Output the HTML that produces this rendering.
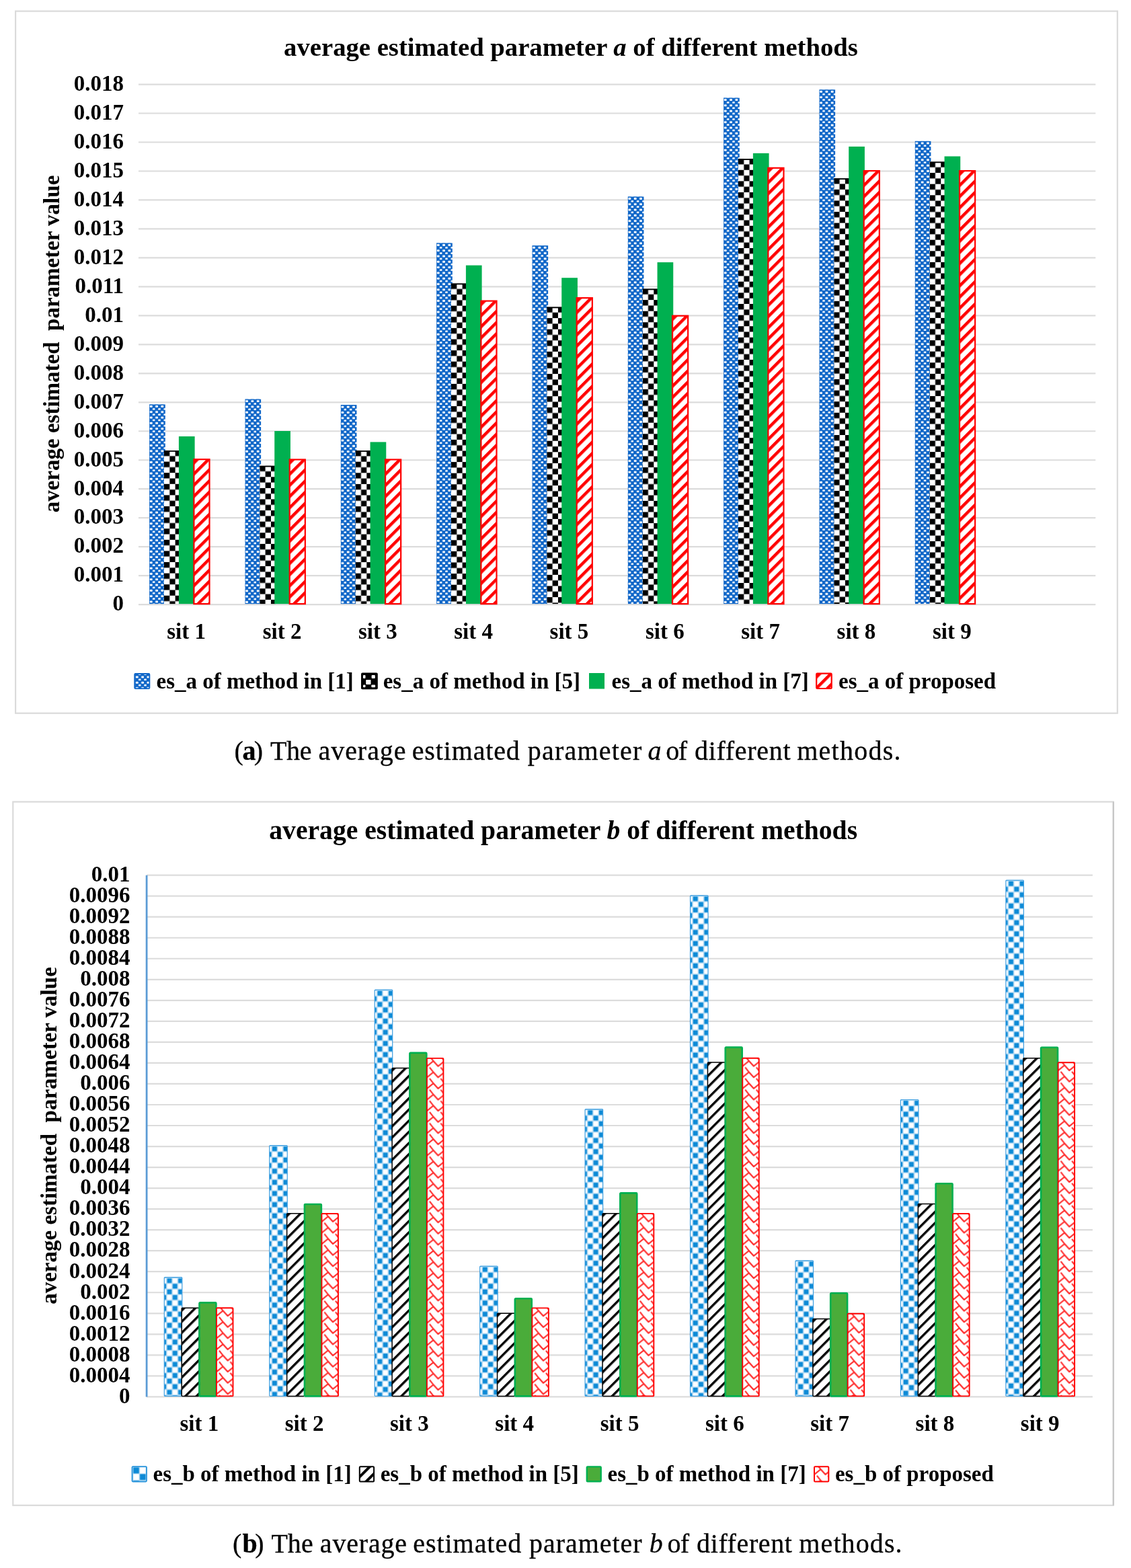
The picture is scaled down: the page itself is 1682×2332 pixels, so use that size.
<!DOCTYPE html>
<html><head><meta charset="utf-8"><title>average estimated parameters</title>
<style>
html,body{margin:0;padding:0;background:#fff;}
body{width:1682px;height:2332px;overflow:hidden;}
svg{display:block;}
text{font-family:"Liberation Serif", "Times New Roman", serif;fill:#000;}
.b{font-weight:bold;}
</style></head><body>
<svg width="1682" height="2332" viewBox="0 0 1682 2332">
<defs>
<pattern id="pa1" patternUnits="userSpaceOnUse" width="8.3" height="8.3">
  <rect width="8.3" height="8.3" fill="#0f66c8"/>
  <rect x="0.7" y="1.6" width="3.9" height="3.0" rx="1" fill="#fff"/>
  <rect x="4.8500000000000005" y="5.75" width="3.9" height="3.0" rx="1" fill="#fff"/>
</pattern>
<pattern id="pa2" patternUnits="userSpaceOnUse" width="16.6" height="16.6">
  <rect width="16.6" height="16.6" fill="#fff"/>
  <rect width="8.3" height="8.3" fill="#000"/>
  <rect x="8.3" y="8.3" width="8.3" height="8.3" fill="#000"/>
</pattern>
<pattern id="pa4" patternUnits="userSpaceOnUse" width="11.74" height="20" x="3.0" patternTransform="rotate(45)">
  <rect width="11.74" height="20" fill="#fff"/>
  <rect width="4.5" height="20" fill="#ff0000"/>
</pattern>
<pattern id="pb1" patternUnits="userSpaceOnUse" width="16.6" height="16.6" x="4.0" y="1.3">
  <rect width="16.6" height="16.6" fill="#b4daf3"/>
  <rect x="0.8" y="0.8" width="6.7" height="6.7" rx="0.6" fill="#0d8ad6"/>
  <rect x="9.100000000000001" y="9.100000000000001" width="6.7" height="6.7" rx="0.6" fill="#0d8ad6"/>
  <rect x="9.100000000000001" y="0.8" width="6.7" height="6.7" rx="0.6" fill="#fff"/>
  <rect x="0.8" y="9.100000000000001" width="6.7" height="6.7" rx="0.6" fill="#fff"/>
</pattern>
<pattern id="pb1i" patternUnits="userSpaceOnUse" width="19.6" height="19.6" x="2.0" y="1.8">
  <rect width="19.6" height="19.6" fill="#b4daf3"/>
  <rect x="0.6" y="0.6" width="8.6" height="8.6" rx="0.6" fill="#0d8ad6"/>
  <rect x="10.4" y="10.4" width="8.6" height="8.6" rx="0.6" fill="#0d8ad6"/>
  <rect x="10.4" y="0.6" width="8.6" height="8.6" rx="0.6" fill="#fff"/>
  <rect x="0.6" y="10.4" width="8.6" height="8.6" rx="0.6" fill="#fff"/>
</pattern>
<pattern id="pb2i" patternUnits="userSpaceOnUse" width="11.74" height="20" x="-1.5" patternTransform="rotate(45)">
  <rect width="11.74" height="20" fill="#fff"/>
  <rect width="4.0" height="20" fill="#000"/>
</pattern>
<pattern id="pa1i" patternUnits="userSpaceOnUse" width="8.3" height="8.3" x="1.85" y="2.7">
  <rect width="8.3" height="8.3" fill="#0f66c8"/>
  <rect x="0.7" y="1.6" width="3.9" height="3.0" rx="1" fill="#fff"/>
  <rect x="4.8500000000000005" y="5.75" width="3.9" height="3.0" rx="1" fill="#fff"/>
</pattern>
<pattern id="pb2" patternUnits="userSpaceOnUse" width="11.74" height="20" x="2" patternTransform="rotate(45)">
  <rect width="11.74" height="20" fill="#fff"/>
  <rect width="3.4" height="20" fill="#000"/>
</pattern>
<pattern id="pb4" patternUnits="userSpaceOnUse" width="16.6" height="16.6">
  <rect width="16.6" height="16.6" fill="#fff"/>
  <path d="M-15.70,-3.90 L-6.10,-11.60 L0.90,-3.90 M-6.10,-11.60 L-11.20,-18.00 M-15.70,12.70 L-6.10,5.00 L0.90,12.70 M-6.10,5.00 L-11.20,-1.40 M-15.70,29.30 L-6.10,21.60 L0.90,29.30 M-6.10,21.60 L-11.20,15.20 M0.90,-3.90 L10.50,-11.60 L17.50,-3.90 M10.50,-11.60 L5.40,-18.00 M0.90,12.70 L10.50,5.00 L17.50,12.70 M10.50,5.00 L5.40,-1.40 M0.90,29.30 L10.50,21.60 L17.50,29.30 M10.50,21.60 L5.40,15.20 M17.50,-3.90 L27.10,-11.60 L34.10,-3.90 M27.10,-11.60 L22.00,-18.00 M17.50,12.70 L27.10,5.00 L34.10,12.70 M27.10,5.00 L22.00,-1.40 M17.50,29.30 L27.10,21.60 L34.10,29.30 M27.10,21.60 L22.00,15.20" stroke="#ff3030" stroke-width="2.2" stroke-linejoin="round" stroke-linecap="round" fill="none"/>
</pattern>
</defs>
<rect width="1682" height="2332" fill="#fff"/>

<rect x="23.1" y="16.6" width="1638.7" height="1044.1" fill="#fff" stroke="#dadada" stroke-width="2.2"/>
<text class="b" x="849" y="82.8" text-anchor="middle" font-size="38.7">average estimated parameter <tspan font-style="italic">a</tspan> of different methods</text>
<line x1="206.0" y1="899.10" x2="1629.3" y2="899.10" stroke="#dcdcdc" stroke-width="2.2"/>
<text class="b" x="184" y="908.40" text-anchor="end" font-size="33">0</text>
<line x1="206.0" y1="856.12" x2="1629.3" y2="856.12" stroke="#dcdcdc" stroke-width="2.2"/>
<text class="b" x="184" y="865.42" text-anchor="end" font-size="33">0.001</text>
<line x1="206.0" y1="813.15" x2="1629.3" y2="813.15" stroke="#dcdcdc" stroke-width="2.2"/>
<text class="b" x="184" y="822.45" text-anchor="end" font-size="33">0.002</text>
<line x1="206.0" y1="770.17" x2="1629.3" y2="770.17" stroke="#dcdcdc" stroke-width="2.2"/>
<text class="b" x="184" y="779.47" text-anchor="end" font-size="33">0.003</text>
<line x1="206.0" y1="727.20" x2="1629.3" y2="727.20" stroke="#dcdcdc" stroke-width="2.2"/>
<text class="b" x="184" y="736.50" text-anchor="end" font-size="33">0.004</text>
<line x1="206.0" y1="684.23" x2="1629.3" y2="684.23" stroke="#dcdcdc" stroke-width="2.2"/>
<text class="b" x="184" y="693.52" text-anchor="end" font-size="33">0.005</text>
<line x1="206.0" y1="641.25" x2="1629.3" y2="641.25" stroke="#dcdcdc" stroke-width="2.2"/>
<text class="b" x="184" y="650.55" text-anchor="end" font-size="33">0.006</text>
<line x1="206.0" y1="598.28" x2="1629.3" y2="598.28" stroke="#dcdcdc" stroke-width="2.2"/>
<text class="b" x="184" y="607.58" text-anchor="end" font-size="33">0.007</text>
<line x1="206.0" y1="555.30" x2="1629.3" y2="555.30" stroke="#dcdcdc" stroke-width="2.2"/>
<text class="b" x="184" y="564.60" text-anchor="end" font-size="33">0.008</text>
<line x1="206.0" y1="512.33" x2="1629.3" y2="512.33" stroke="#dcdcdc" stroke-width="2.2"/>
<text class="b" x="184" y="521.62" text-anchor="end" font-size="33">0.009</text>
<line x1="206.0" y1="469.35" x2="1629.3" y2="469.35" stroke="#dcdcdc" stroke-width="2.2"/>
<text class="b" x="184" y="478.65" text-anchor="end" font-size="33">0.01</text>
<line x1="206.0" y1="426.38" x2="1629.3" y2="426.38" stroke="#dcdcdc" stroke-width="2.2"/>
<text class="b" x="184" y="435.68" text-anchor="end" font-size="33">0.011</text>
<line x1="206.0" y1="383.40" x2="1629.3" y2="383.40" stroke="#dcdcdc" stroke-width="2.2"/>
<text class="b" x="184" y="392.70" text-anchor="end" font-size="33">0.012</text>
<line x1="206.0" y1="340.42" x2="1629.3" y2="340.42" stroke="#dcdcdc" stroke-width="2.2"/>
<text class="b" x="184" y="349.72" text-anchor="end" font-size="33">0.013</text>
<line x1="206.0" y1="297.45" x2="1629.3" y2="297.45" stroke="#dcdcdc" stroke-width="2.2"/>
<text class="b" x="184" y="306.75" text-anchor="end" font-size="33">0.014</text>
<line x1="206.0" y1="254.48" x2="1629.3" y2="254.48" stroke="#dcdcdc" stroke-width="2.2"/>
<text class="b" x="184" y="263.78" text-anchor="end" font-size="33">0.015</text>
<line x1="206.0" y1="211.50" x2="1629.3" y2="211.50" stroke="#dcdcdc" stroke-width="2.2"/>
<text class="b" x="184" y="220.80" text-anchor="end" font-size="33">0.016</text>
<line x1="206.0" y1="168.52" x2="1629.3" y2="168.52" stroke="#dcdcdc" stroke-width="2.2"/>
<text class="b" x="184" y="177.82" text-anchor="end" font-size="33">0.017</text>
<line x1="206.0" y1="125.55" x2="1629.3" y2="125.55" stroke="#dcdcdc" stroke-width="2.2"/>
<text class="b" x="184" y="134.85" text-anchor="end" font-size="33">0.018</text>
<text class="b" x="0" y="0" transform="translate(88,511.5) rotate(-90)" text-anchor="middle" font-size="33" xml:space="preserve">average estimated  parameter value</text>
<g transform="translate(222.10,601.30)"><rect width="23.70" height="296.80" fill="url(#pa1)"/></g>
<g transform="translate(244.00,670.00)"><rect width="23.70" height="228.10" fill="url(#pa2)"/><rect width="23.70" height="1.8" fill="#000"/></g>
<g transform="translate(265.90,649.00)"><rect width="23.70" height="249.10" fill="#00b050"/></g>
<g transform="translate(287.30,682.10)"><rect x="1.1" y="1.1" width="23.10" height="214.90" fill="url(#pa4)" stroke="#ff0000" stroke-width="2.2"/></g>
<text class="b" x="277.16" y="949.5" text-anchor="middle" font-size="33">sit 1</text>
<g transform="translate(364.43,593.50)"><rect width="23.70" height="304.60" fill="url(#pa1)"/></g>
<g transform="translate(386.33,692.70)"><rect width="23.70" height="205.40" fill="url(#pa2)"/><rect width="23.70" height="1.8" fill="#000"/></g>
<g transform="translate(408.23,641.00)"><rect width="23.70" height="257.10" fill="#00b050"/></g>
<g transform="translate(429.63,682.40)"><rect x="1.1" y="1.1" width="23.10" height="214.60" fill="url(#pa4)" stroke="#ff0000" stroke-width="2.2"/></g>
<text class="b" x="419.50" y="949.5" text-anchor="middle" font-size="33">sit 2</text>
<g transform="translate(506.76,602.10)"><rect width="23.70" height="296.00" fill="url(#pa1)"/></g>
<g transform="translate(528.66,670.10)"><rect width="23.70" height="228.00" fill="url(#pa2)"/><rect width="23.70" height="1.8" fill="#000"/></g>
<g transform="translate(550.56,657.40)"><rect width="23.70" height="240.70" fill="#00b050"/></g>
<g transform="translate(571.96,682.40)"><rect x="1.1" y="1.1" width="23.10" height="214.60" fill="url(#pa4)" stroke="#ff0000" stroke-width="2.2"/></g>
<text class="b" x="561.82" y="949.5" text-anchor="middle" font-size="33">sit 3</text>
<g transform="translate(649.09,361.30)"><rect width="23.70" height="536.80" fill="url(#pa1)"/></g>
<g transform="translate(670.99,421.50)"><rect width="23.70" height="476.60" fill="url(#pa2)"/><rect width="23.70" height="1.8" fill="#000"/></g>
<g transform="translate(692.89,394.60)"><rect width="23.70" height="503.50" fill="#00b050"/></g>
<g transform="translate(714.29,446.50)"><rect x="1.1" y="1.1" width="23.10" height="450.50" fill="url(#pa4)" stroke="#ff0000" stroke-width="2.2"/></g>
<text class="b" x="704.15" y="949.5" text-anchor="middle" font-size="33">sit 4</text>
<g transform="translate(791.42,365.10)"><rect width="23.70" height="533.00" fill="url(#pa1)"/></g>
<g transform="translate(813.32,456.50)"><rect width="23.70" height="441.60" fill="url(#pa2)"/><rect width="23.70" height="1.8" fill="#000"/></g>
<g transform="translate(835.22,413.20)"><rect width="23.70" height="484.90" fill="#00b050"/></g>
<g transform="translate(856.62,442.00)"><rect x="1.1" y="1.1" width="23.10" height="455.00" fill="url(#pa4)" stroke="#ff0000" stroke-width="2.2"/></g>
<text class="b" x="846.48" y="949.5" text-anchor="middle" font-size="33">sit 5</text>
<g transform="translate(933.75,292.30)"><rect width="23.70" height="605.80" fill="url(#pa1)"/></g>
<g transform="translate(955.65,429.50)"><rect width="23.70" height="468.60" fill="url(#pa2)"/><rect width="23.70" height="1.8" fill="#000"/></g>
<g transform="translate(977.55,390.10)"><rect width="23.70" height="508.00" fill="#00b050"/></g>
<g transform="translate(998.95,468.60)"><rect x="1.1" y="1.1" width="23.10" height="428.40" fill="url(#pa4)" stroke="#ff0000" stroke-width="2.2"/></g>
<text class="b" x="988.81" y="949.5" text-anchor="middle" font-size="33">sit 6</text>
<g transform="translate(1076.08,145.40)"><rect width="23.70" height="752.70" fill="url(#pa1)"/></g>
<g transform="translate(1097.98,236.20)"><rect width="23.70" height="661.90" fill="url(#pa2)"/><rect width="23.70" height="1.8" fill="#000"/></g>
<g transform="translate(1119.88,227.90)"><rect width="23.70" height="670.20" fill="#00b050"/></g>
<g transform="translate(1141.28,248.70)"><rect x="1.1" y="1.1" width="23.10" height="648.30" fill="url(#pa4)" stroke="#ff0000" stroke-width="2.2"/></g>
<text class="b" x="1131.14" y="949.5" text-anchor="middle" font-size="33">sit 7</text>
<g transform="translate(1218.41,133.20)"><rect width="23.70" height="764.90" fill="url(#pa1)"/></g>
<g transform="translate(1240.31,265.20)"><rect width="23.70" height="632.90" fill="url(#pa2)"/><rect width="23.70" height="1.8" fill="#000"/></g>
<g transform="translate(1262.21,218.00)"><rect width="23.70" height="680.10" fill="#00b050"/></g>
<g transform="translate(1283.61,253.00)"><rect x="1.1" y="1.1" width="23.10" height="644.00" fill="url(#pa4)" stroke="#ff0000" stroke-width="2.2"/></g>
<text class="b" x="1273.47" y="949.5" text-anchor="middle" font-size="33">sit 8</text>
<g transform="translate(1360.74,209.80)"><rect width="23.70" height="688.30" fill="url(#pa1)"/></g>
<g transform="translate(1382.64,240.50)"><rect width="23.70" height="657.60" fill="url(#pa2)"/><rect width="23.70" height="1.8" fill="#000"/></g>
<g transform="translate(1404.54,232.50)"><rect width="23.70" height="665.60" fill="#00b050"/></g>
<g transform="translate(1425.94,253.00)"><rect x="1.1" y="1.1" width="23.10" height="644.00" fill="url(#pa4)" stroke="#ff0000" stroke-width="2.2"/></g>
<text class="b" x="1415.80" y="949.5" text-anchor="middle" font-size="33">sit 9</text>
<g transform="translate(199.30,1001.10)"><rect x="0.9" y="0.9" width="22.2" height="22.2" rx="1.2" fill="url(#pa1i)" stroke="#0f66c8" stroke-width="1.8"/></g>
<text class="b" x="232.5" y="1024.2" font-size="33">es_a of method in [1]</text>
<g transform="translate(537,1000.6)"><rect width="24.8" height="24.6" rx="2" fill="#000"/><rect x="3" y="3.3" width="3.5" height="5.1" rx="1" fill="#fff"/><rect x="15.6" y="3.3" width="5.2" height="5.1" rx="1" fill="#fff"/><rect x="7.2" y="10.3" width="7.3" height="7" rx="0.8" fill="#fff"/><rect x="3" y="18" width="3.5" height="3.7" rx="1" fill="#fff"/><rect x="15.3" y="18" width="5.8" height="3.7" rx="1" fill="#fff"/></g>
<text class="b" x="569.7" y="1024.2" font-size="33">es_a of method in [5]</text>
<g transform="translate(876.00,1001.00)"><rect width="23" height="23.5" fill="#00b050"/></g>
<text class="b" x="909.5" y="1024.2" font-size="33">es_a of method in [7]</text>
<g transform="translate(1213.10,1000.60)"><rect x="1.1" y="1.1" width="22.5" height="22.3" rx="1.2" fill="url(#pa4)" stroke="#ff0000" stroke-width="2.2"/></g>
<text class="b" x="1247.0" y="1024.2" font-size="33">es_a of proposed</text>
<g stroke="#000" stroke-width="0.3"><text x="348.5" y="1130.2" font-size="40">(</text><text x="360.4" y="1130.2" font-size="40" font-weight="bold">a</text><text x="377.7" y="1130.2" font-size="40">)</text><text x="401.9" y="1130.2" font-size="40" letter-spacing="-0.30">The</text><text x="473.5" y="1130.2" font-size="40" letter-spacing="0.95">average</text><text x="612.7" y="1130.2" font-size="40" letter-spacing="0.86">estimated</text><text x="784.8" y="1130.2" font-size="40" letter-spacing="1.20">parameter</text><text x="963.6" y="1130.2" font-size="40" font-style="italic">a</text><text x="990.3" y="1130.2" font-size="40" letter-spacing="-1.60">of</text><text x="1033.1" y="1130.2" font-size="40" letter-spacing="0.68">different</text><text x="1185.2" y="1130.2" font-size="40" letter-spacing="1.26">methods.</text></g>
<rect x="19.3" y="1192.5" width="1636.5" height="1046.3" fill="#fff" stroke="#dadada" stroke-width="2.2"/>
<line x1="1655.8" y1="1192.5" x2="1655.8" y2="2238.8" stroke="#c6c6c6" stroke-width="2.2"/>
<text class="b" x="837.7" y="1248.1" text-anchor="middle" font-size="39.65">average estimated parameter <tspan font-style="italic">b</tspan> of different methods</text>
<line x1="218.1" y1="2077.40" x2="1624.9" y2="2077.40" stroke="#dcdcdc" stroke-width="2.2"/>
<text class="b" x="193.5" y="2086.70" text-anchor="end" font-size="33">0</text>
<line x1="218.1" y1="2046.37" x2="1624.9" y2="2046.37" stroke="#dcdcdc" stroke-width="2.2"/>
<text class="b" x="193.5" y="2055.67" text-anchor="end" font-size="33">0.0004</text>
<line x1="218.1" y1="2015.34" x2="1624.9" y2="2015.34" stroke="#dcdcdc" stroke-width="2.2"/>
<text class="b" x="193.5" y="2024.64" text-anchor="end" font-size="33">0.0008</text>
<line x1="218.1" y1="1984.31" x2="1624.9" y2="1984.31" stroke="#dcdcdc" stroke-width="2.2"/>
<text class="b" x="193.5" y="1993.61" text-anchor="end" font-size="33">0.0012</text>
<line x1="218.1" y1="1953.28" x2="1624.9" y2="1953.28" stroke="#dcdcdc" stroke-width="2.2"/>
<text class="b" x="193.5" y="1962.58" text-anchor="end" font-size="33">0.0016</text>
<line x1="218.1" y1="1922.25" x2="1624.9" y2="1922.25" stroke="#dcdcdc" stroke-width="2.2"/>
<text class="b" x="193.5" y="1931.55" text-anchor="end" font-size="33">0.002</text>
<line x1="218.1" y1="1891.22" x2="1624.9" y2="1891.22" stroke="#dcdcdc" stroke-width="2.2"/>
<text class="b" x="193.5" y="1900.52" text-anchor="end" font-size="33">0.0024</text>
<line x1="218.1" y1="1860.19" x2="1624.9" y2="1860.19" stroke="#dcdcdc" stroke-width="2.2"/>
<text class="b" x="193.5" y="1869.49" text-anchor="end" font-size="33">0.0028</text>
<line x1="218.1" y1="1829.16" x2="1624.9" y2="1829.16" stroke="#dcdcdc" stroke-width="2.2"/>
<text class="b" x="193.5" y="1838.46" text-anchor="end" font-size="33">0.0032</text>
<line x1="218.1" y1="1798.13" x2="1624.9" y2="1798.13" stroke="#dcdcdc" stroke-width="2.2"/>
<text class="b" x="193.5" y="1807.43" text-anchor="end" font-size="33">0.0036</text>
<line x1="218.1" y1="1767.10" x2="1624.9" y2="1767.10" stroke="#dcdcdc" stroke-width="2.2"/>
<text class="b" x="193.5" y="1776.40" text-anchor="end" font-size="33">0.004</text>
<line x1="218.1" y1="1736.07" x2="1624.9" y2="1736.07" stroke="#dcdcdc" stroke-width="2.2"/>
<text class="b" x="193.5" y="1745.37" text-anchor="end" font-size="33">0.0044</text>
<line x1="218.1" y1="1705.04" x2="1624.9" y2="1705.04" stroke="#dcdcdc" stroke-width="2.2"/>
<text class="b" x="193.5" y="1714.34" text-anchor="end" font-size="33">0.0048</text>
<line x1="218.1" y1="1674.01" x2="1624.9" y2="1674.01" stroke="#dcdcdc" stroke-width="2.2"/>
<text class="b" x="193.5" y="1683.31" text-anchor="end" font-size="33">0.0052</text>
<line x1="218.1" y1="1642.98" x2="1624.9" y2="1642.98" stroke="#dcdcdc" stroke-width="2.2"/>
<text class="b" x="193.5" y="1652.28" text-anchor="end" font-size="33">0.0056</text>
<line x1="218.1" y1="1611.95" x2="1624.9" y2="1611.95" stroke="#dcdcdc" stroke-width="2.2"/>
<text class="b" x="193.5" y="1621.25" text-anchor="end" font-size="33">0.006</text>
<line x1="218.1" y1="1580.92" x2="1624.9" y2="1580.92" stroke="#dcdcdc" stroke-width="2.2"/>
<text class="b" x="193.5" y="1590.22" text-anchor="end" font-size="33">0.0064</text>
<line x1="218.1" y1="1549.89" x2="1624.9" y2="1549.89" stroke="#dcdcdc" stroke-width="2.2"/>
<text class="b" x="193.5" y="1559.19" text-anchor="end" font-size="33">0.0068</text>
<line x1="218.1" y1="1518.86" x2="1624.9" y2="1518.86" stroke="#dcdcdc" stroke-width="2.2"/>
<text class="b" x="193.5" y="1528.16" text-anchor="end" font-size="33">0.0072</text>
<line x1="218.1" y1="1487.83" x2="1624.9" y2="1487.83" stroke="#dcdcdc" stroke-width="2.2"/>
<text class="b" x="193.5" y="1497.13" text-anchor="end" font-size="33">0.0076</text>
<line x1="218.1" y1="1456.80" x2="1624.9" y2="1456.80" stroke="#dcdcdc" stroke-width="2.2"/>
<text class="b" x="193.5" y="1466.10" text-anchor="end" font-size="33">0.008</text>
<line x1="218.1" y1="1425.77" x2="1624.9" y2="1425.77" stroke="#dcdcdc" stroke-width="2.2"/>
<text class="b" x="193.5" y="1435.07" text-anchor="end" font-size="33">0.0084</text>
<line x1="218.1" y1="1394.74" x2="1624.9" y2="1394.74" stroke="#dcdcdc" stroke-width="2.2"/>
<text class="b" x="193.5" y="1404.04" text-anchor="end" font-size="33">0.0088</text>
<line x1="218.1" y1="1363.71" x2="1624.9" y2="1363.71" stroke="#dcdcdc" stroke-width="2.2"/>
<text class="b" x="193.5" y="1373.01" text-anchor="end" font-size="33">0.0092</text>
<line x1="218.1" y1="1332.68" x2="1624.9" y2="1332.68" stroke="#dcdcdc" stroke-width="2.2"/>
<text class="b" x="193.5" y="1341.98" text-anchor="end" font-size="33">0.0096</text>
<line x1="218.1" y1="1301.65" x2="1624.9" y2="1301.65" stroke="#dcdcdc" stroke-width="2.2"/>
<text class="b" x="193.5" y="1310.95" text-anchor="end" font-size="33">0.01</text>
<line x1="218.1" y1="1301.65" x2="218.1" y2="2077.40" stroke="#5b9bd5" stroke-width="2.8"/>
<text class="b" x="0" y="0" transform="translate(84,1689) rotate(-90)" text-anchor="middle" font-size="33" xml:space="preserve">average estimated  parameter value</text>
<g transform="translate(243.80,1899.20)"><rect x="0.5" y="0.5" width="26.50" height="176.70" rx="1" fill="url(#pb1)" stroke="#3d9ee0" stroke-width="1.2"/></g>
<g transform="translate(269.50,1944.60)"><rect x="0.7" y="0.7" width="26.10" height="131.10" rx="1" fill="url(#pb2)" stroke="#000" stroke-width="1.5"/></g>
<g transform="translate(295.20,1936.10)"><rect x="1.3" y="1.3" width="24.90" height="139.00" rx="1" fill="#4aac3a" stroke="#00b050" stroke-width="2.6"/></g>
<g transform="translate(321.10,1944.40)"><rect x="0.9" y="0.9" width="24.50" height="131.10" rx="1" fill="url(#pb4)" stroke="#ff0000" stroke-width="1.9"/></g>
<text class="b" x="296.26" y="2128" text-anchor="middle" font-size="33">sit 1</text>
<g transform="translate(400.25,1703.10)"><rect x="0.5" y="0.5" width="26.50" height="372.80" rx="1" fill="url(#pb1)" stroke="#3d9ee0" stroke-width="1.2"/></g>
<g transform="translate(425.95,1804.10)"><rect x="0.7" y="0.7" width="26.10" height="271.60" rx="1" fill="url(#pb2)" stroke="#000" stroke-width="1.5"/></g>
<g transform="translate(451.65,1789.70)"><rect x="1.3" y="1.3" width="24.90" height="285.40" rx="1" fill="#4aac3a" stroke="#00b050" stroke-width="2.6"/></g>
<g transform="translate(477.55,1804.10)"><rect x="0.9" y="0.9" width="24.50" height="271.40" rx="1" fill="url(#pb4)" stroke="#ff0000" stroke-width="1.9"/></g>
<text class="b" x="452.57" y="2128" text-anchor="middle" font-size="33">sit 2</text>
<g transform="translate(556.70,1471.70)"><rect x="0.5" y="0.5" width="26.50" height="604.20" rx="1" fill="url(#pb1)" stroke="#3d9ee0" stroke-width="1.2"/></g>
<g transform="translate(582.40,1587.70)"><rect x="0.7" y="0.7" width="26.10" height="488.00" rx="1" fill="url(#pb2)" stroke="#000" stroke-width="1.5"/></g>
<g transform="translate(608.10,1564.60)"><rect x="1.3" y="1.3" width="24.90" height="510.50" rx="1" fill="#4aac3a" stroke="#00b050" stroke-width="2.6"/></g>
<g transform="translate(634.00,1573.00)"><rect x="0.9" y="0.9" width="24.50" height="502.50" rx="1" fill="url(#pb4)" stroke="#ff0000" stroke-width="1.9"/></g>
<text class="b" x="608.88" y="2128" text-anchor="middle" font-size="33">sit 3</text>
<g transform="translate(713.15,1882.60)"><rect x="0.5" y="0.5" width="26.50" height="193.30" rx="1" fill="url(#pb1)" stroke="#3d9ee0" stroke-width="1.2"/></g>
<g transform="translate(738.85,1952.50)"><rect x="0.7" y="0.7" width="26.10" height="123.20" rx="1" fill="url(#pb2)" stroke="#000" stroke-width="1.5"/></g>
<g transform="translate(764.55,1930.00)"><rect x="1.3" y="1.3" width="24.90" height="145.10" rx="1" fill="#4aac3a" stroke="#00b050" stroke-width="2.6"/></g>
<g transform="translate(790.45,1944.50)"><rect x="0.9" y="0.9" width="24.50" height="131.00" rx="1" fill="url(#pb4)" stroke="#ff0000" stroke-width="1.9"/></g>
<text class="b" x="765.19" y="2128" text-anchor="middle" font-size="33">sit 4</text>
<g transform="translate(869.60,1649.20)"><rect x="0.5" y="0.5" width="26.50" height="426.70" rx="1" fill="url(#pb1)" stroke="#3d9ee0" stroke-width="1.2"/></g>
<g transform="translate(895.30,1804.00)"><rect x="0.7" y="0.7" width="26.10" height="271.70" rx="1" fill="url(#pb2)" stroke="#000" stroke-width="1.5"/></g>
<g transform="translate(921.00,1773.10)"><rect x="1.3" y="1.3" width="24.90" height="302.00" rx="1" fill="#4aac3a" stroke="#00b050" stroke-width="2.6"/></g>
<g transform="translate(946.90,1804.00)"><rect x="0.9" y="0.9" width="24.50" height="271.50" rx="1" fill="url(#pb4)" stroke="#ff0000" stroke-width="1.9"/></g>
<text class="b" x="921.50" y="2128" text-anchor="middle" font-size="33">sit 5</text>
<g transform="translate(1026.05,1331.30)"><rect x="0.5" y="0.5" width="26.50" height="744.60" rx="1" fill="url(#pb1)" stroke="#3d9ee0" stroke-width="1.2"/></g>
<g transform="translate(1051.75,1579.30)"><rect x="0.7" y="0.7" width="26.10" height="496.40" rx="1" fill="url(#pb2)" stroke="#000" stroke-width="1.5"/></g>
<g transform="translate(1077.45,1556.30)"><rect x="1.3" y="1.3" width="24.90" height="518.80" rx="1" fill="#4aac3a" stroke="#00b050" stroke-width="2.6"/></g>
<g transform="translate(1103.35,1572.90)"><rect x="0.9" y="0.9" width="24.50" height="502.60" rx="1" fill="url(#pb4)" stroke="#ff0000" stroke-width="1.9"/></g>
<text class="b" x="1077.81" y="2128" text-anchor="middle" font-size="33">sit 6</text>
<g transform="translate(1182.50,1874.30)"><rect x="0.5" y="0.5" width="26.50" height="201.60" rx="1" fill="url(#pb1)" stroke="#3d9ee0" stroke-width="1.2"/></g>
<g transform="translate(1208.20,1960.90)"><rect x="0.7" y="0.7" width="26.10" height="114.80" rx="1" fill="url(#pb2)" stroke="#000" stroke-width="1.5"/></g>
<g transform="translate(1233.90,1922.00)"><rect x="1.3" y="1.3" width="24.90" height="153.10" rx="1" fill="#4aac3a" stroke="#00b050" stroke-width="2.6"/></g>
<g transform="translate(1259.80,1952.80)"><rect x="0.9" y="0.9" width="24.50" height="122.70" rx="1" fill="url(#pb4)" stroke="#ff0000" stroke-width="1.9"/></g>
<text class="b" x="1234.12" y="2128" text-anchor="middle" font-size="33">sit 7</text>
<g transform="translate(1338.95,1635.00)"><rect x="0.5" y="0.5" width="26.50" height="440.90" rx="1" fill="url(#pb1)" stroke="#3d9ee0" stroke-width="1.2"/></g>
<g transform="translate(1364.65,1789.80)"><rect x="0.7" y="0.7" width="26.10" height="285.90" rx="1" fill="url(#pb2)" stroke="#000" stroke-width="1.5"/></g>
<g transform="translate(1390.35,1758.90)"><rect x="1.3" y="1.3" width="24.90" height="316.20" rx="1" fill="#4aac3a" stroke="#00b050" stroke-width="2.6"/></g>
<g transform="translate(1416.25,1804.10)"><rect x="0.9" y="0.9" width="24.50" height="271.40" rx="1" fill="url(#pb4)" stroke="#ff0000" stroke-width="1.9"/></g>
<text class="b" x="1390.43" y="2128" text-anchor="middle" font-size="33">sit 8</text>
<g transform="translate(1495.40,1308.70)"><rect x="0.5" y="0.5" width="26.50" height="767.20" rx="1" fill="url(#pb1)" stroke="#3d9ee0" stroke-width="1.2"/></g>
<g transform="translate(1521.10,1573.00)"><rect x="0.7" y="0.7" width="26.10" height="502.70" rx="1" fill="url(#pb2)" stroke="#000" stroke-width="1.5"/></g>
<g transform="translate(1546.80,1556.50)"><rect x="1.3" y="1.3" width="24.90" height="518.60" rx="1" fill="#4aac3a" stroke="#00b050" stroke-width="2.6"/></g>
<g transform="translate(1572.70,1579.30)"><rect x="0.9" y="0.9" width="24.50" height="496.20" rx="1" fill="url(#pb4)" stroke="#ff0000" stroke-width="1.9"/></g>
<text class="b" x="1546.74" y="2128" text-anchor="middle" font-size="33">sit 9</text>
<g transform="translate(195.60,2180.20)"><rect x="0.9" y="0.9" width="21.50" height="22.40" rx="1.2" fill="url(#pb1i)" stroke="#2a95dc" stroke-width="1.8"/></g>
<text class="b" x="227.5" y="2202.9" font-size="33">es_b of method in [1]</text>
<g transform="translate(533.80,2180.20)"><rect x="1" y="1" width="21.30" height="22.20" rx="1.2" fill="url(#pb2i)" stroke="#000" stroke-width="2"/></g>
<text class="b" x="565.7" y="2202.9" font-size="33">es_b of method in [5]</text>
<g transform="translate(871.60,2180.20)"><rect x="1.2" y="1.2" width="20.90" height="21.80" rx="1" fill="#4aac3a" stroke="#00b050" stroke-width="2.4"/></g>
<text class="b" x="903.5" y="2202.9" font-size="33">es_b of method in [7]</text>
<g transform="translate(1210.00,2180.20)"><rect x="1" y="1" width="21.30" height="22.20" rx="1.2" fill="url(#pb4)" stroke="#ff0000" stroke-width="2"/></g>
<text class="b" x="1241.9" y="2202.9" font-size="33">es_b of proposed</text>
<g stroke="#000" stroke-width="0.3"><text x="345.9" y="2309" font-size="40">(</text><text x="360.6" y="2309" font-size="40" font-weight="bold">b</text><text x="379.2" y="2309" font-size="40">)</text><text x="403.4" y="2309" font-size="40" letter-spacing="0.05">The</text><text x="475.8" y="2309" font-size="40" letter-spacing="0.83">average</text><text x="614.2" y="2309" font-size="40" letter-spacing="0.96">estimated</text><text x="787.1" y="2309" font-size="40" letter-spacing="0.94">parameter</text><text x="965.8" y="2309" font-size="40" font-style="italic">b</text><text x="992.6" y="2309" font-size="40" letter-spacing="-0.90">of</text><text x="1036.1" y="2309" font-size="40" letter-spacing="0.60">different</text><text x="1188.3" y="2309" font-size="40" letter-spacing="1.11">methods.</text></g>
</svg></body></html>
